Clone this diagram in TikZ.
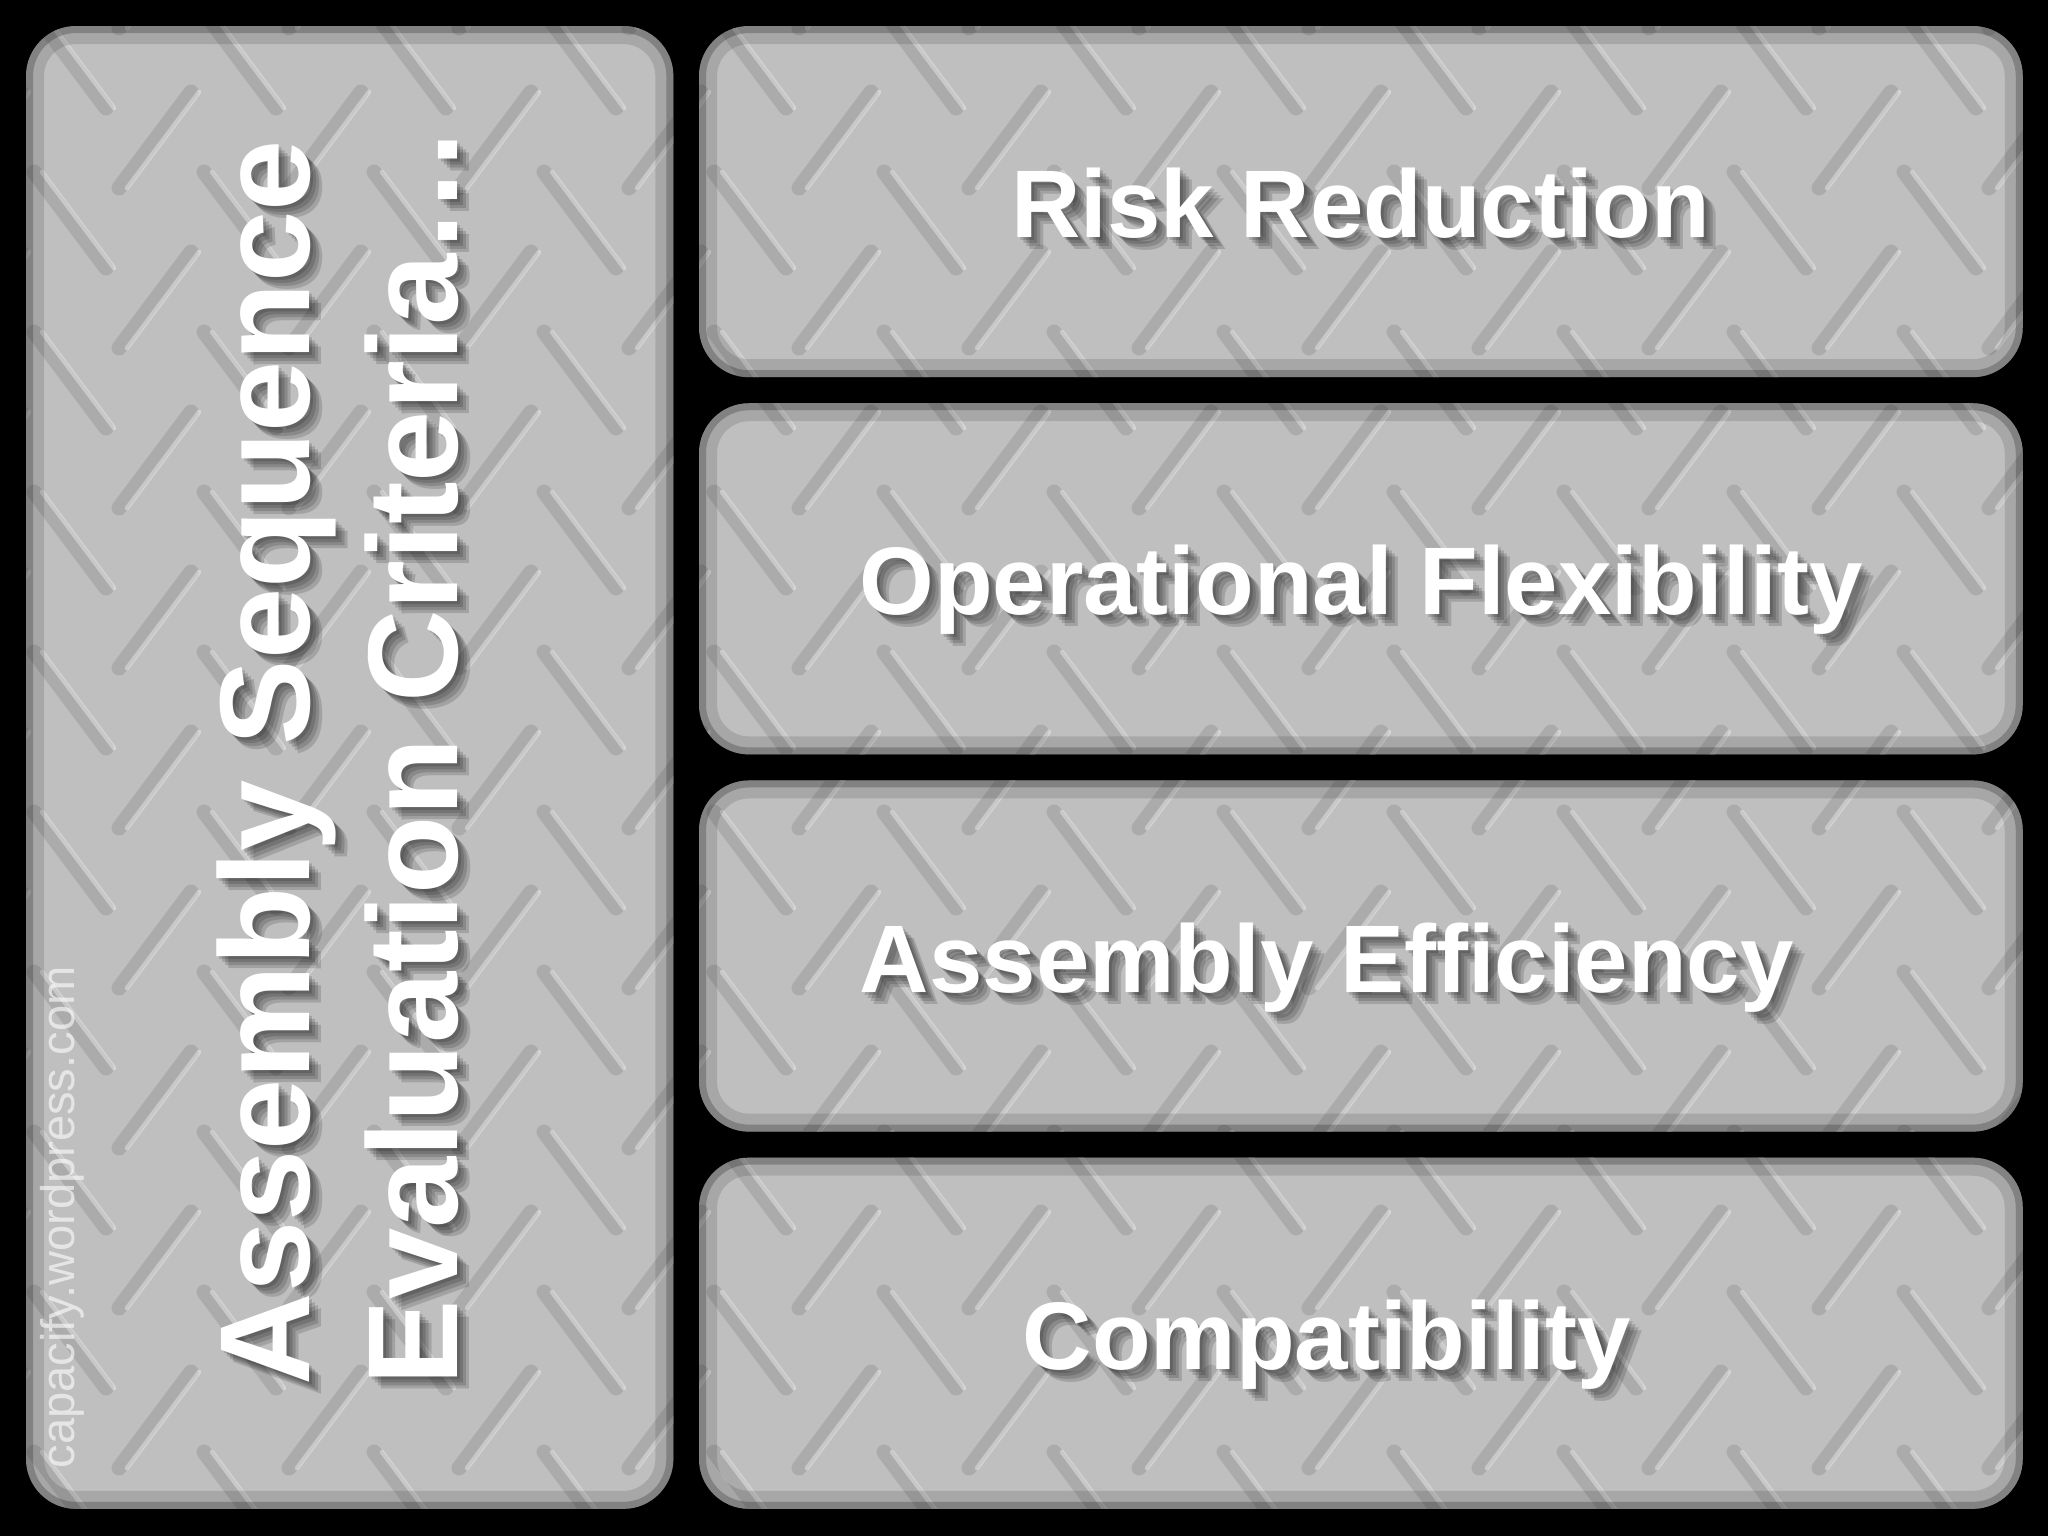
\documentclass[tikz,border=0pt]{standalone}
\usepackage{fontspec}
\setmainfont{Liberation Sans}
\usetikzlibrary{positioning}

\begin{document}
\begin{tikzpicture}[
    x=0.01cm, y=-0.01cm,
    plate/.style={fill=black!25, rounded corners=0.5cm, inner sep=0pt, outer sep=0pt,
        minimum width=13.23cm, minimum height=3.51cm},
    groove/.style={line width=0.15cm, line cap=round, draw=black!55, opacity=0.26},
    glint/.style={line width=0.045cm, line cap=round, draw=white, opacity=0.35},
    rim/.style={draw=black, rounded corners=0.5cm},
    label/.style={text=white, font=\bfseries\fontsize{27.3}{33}\selectfont, anchor=base, inner sep=0pt},
    blur/.style={text=black, text opacity=0.15},
    title/.style={text=white, font=\bfseries\fontsize{36.4}{44}\selectfont, rotate=90, anchor=base west, inner sep=0pt},
    credit/.style={text=white, text opacity=0.6, font=\fontsize{13.4}{16}\selectfont, rotate=90, anchor=base west, inner sep=0pt}
    ]

    % black backdrop
    \fill[black] (0,0) rectangle (2048,1536);
    \useasboundingbox (0,0) rectangle (2048,1536);

    % plates
    \node[plate, minimum width=6.47cm, minimum height=14.82cm, anchor=north west] (crit) at (26,26) {};
    \node[plate, anchor=north west] (risk) at (699,26) {};
    \node[plate, below=0.26cm of risk] (flex) {};
    \node[plate, below=0.26cm of flex] (eff) {};
    \node[plate, below=0.26cm of eff] (compat) {};

    % tread pattern and rims, clipped to the plates
    \begin{scope}
        \clip[rounded corners=0.5cm] (crit.north west) rectangle (crit.south east)
            (risk.north west) rectangle (risk.south east)
            (flex.north west) rectangle (flex.south east)
            (eff.north west) rectangle (eff.south east)
            (compat.north west) rectangle (compat.south east);
        \foreach \x in {-100,70,...,2150}
            \foreach \y in {-100,60,...,1650} {
                \draw[groove] (\x-36,\y-48) -- (\x+36,\y+48);
                \draw[glint] (\x-28,\y-48) -- (\x+44,\y+48);
                \draw[groove] (\x+49,\y+128) -- (\x+121,\y+32);
                \draw[glint] (\x+57,\y+128) -- (\x+129,\y+32);
            }
        \foreach \p in {crit,risk,flex,eff,compat} {
            \draw[rim, line width=0.36cm, opacity=0.12] (\p.north west) rectangle (\p.south east);
            \draw[rim, line width=0.14cm, opacity=0.22] (\p.north west) rectangle (\p.south east);
        }
    \end{scope}

    % criteria
    \foreach \p/\dx/\txt in {risk/0/Risk Reduction, flex/0/Operational Flexibility,
        eff/-34/Assembly Efficiency, compat/-34/Compatibility} {
        \foreach \d in {3,6,9,12}
            \node[label, blur] (\p-sh\d) at ([shift={(\dx+\d,36+\d)}]\p.center) {\txt};
        \node[label] (\p-text) at ([shift={(\dx,36)}]\p.center) {\txt};
    }

    % heading
    \foreach \d in {3,6,9,12} {
        \node[title, blur] (head-a-sh\d) at (309+\d,1386+\d) {Assembly Sequence};
        \node[title, blur] (head-b-sh\d) at (457+\d,1386+\d) {Evaluation Criteria\dots};
    }
    \node[title] (head-a) at (309,1386) {Assembly Sequence};
    \node[title] (head-b) at (457,1386) {Evaluation Criteria\dots};

    \node[credit] (site) at (74,1469) {capacify.wordpress.com};

\end{tikzpicture}
\end{document}
